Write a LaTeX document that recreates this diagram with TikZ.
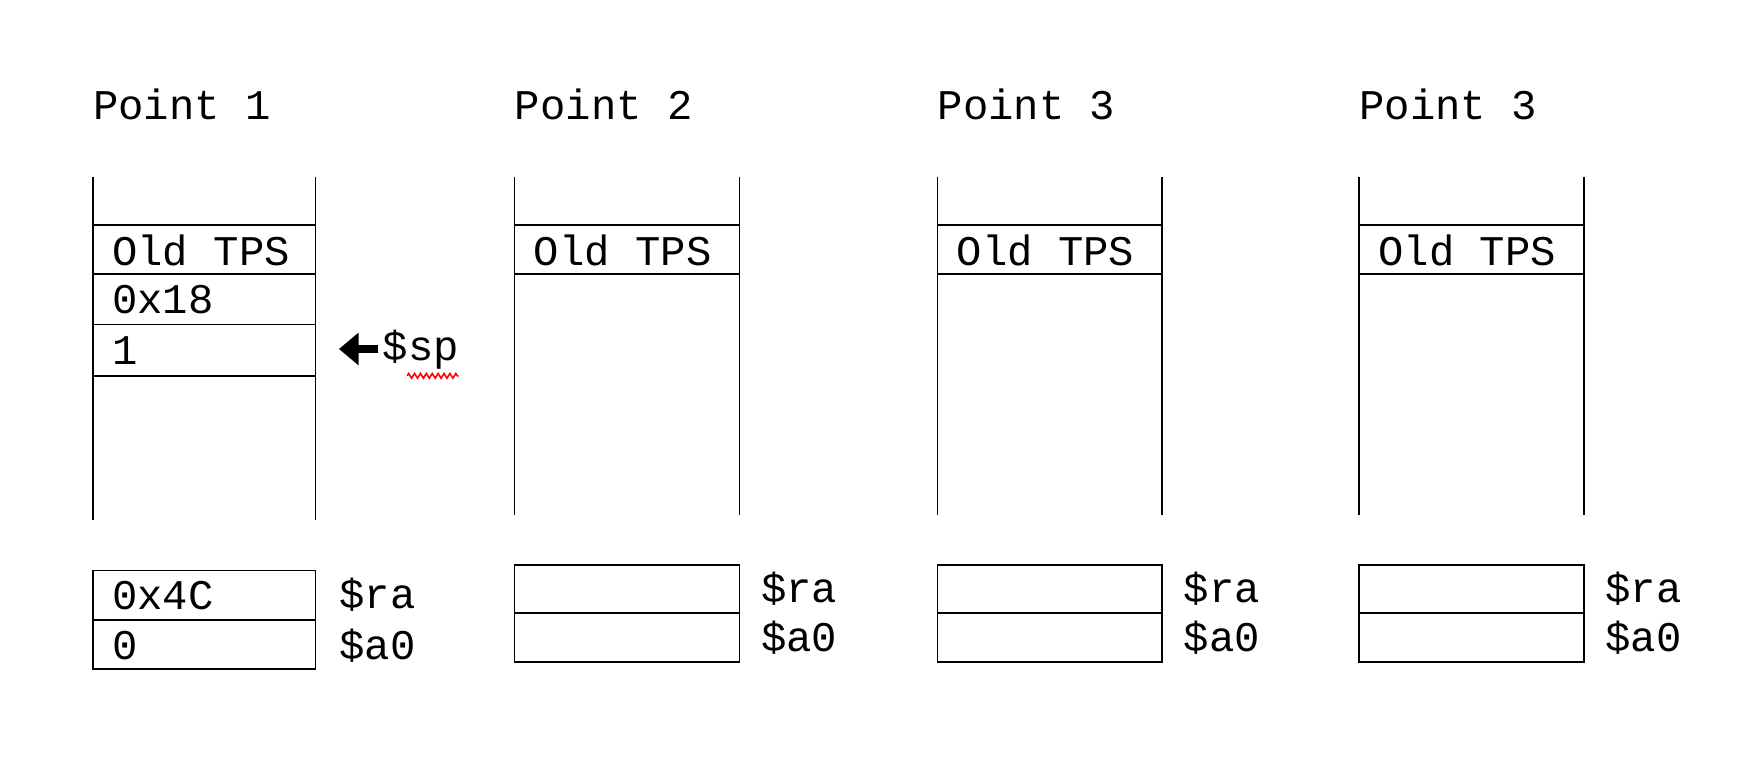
\documentclass[tikz,border=0pt]{standalone}
\usepackage{fontspec}
\setmonofont{Liberation Mono}
\usetikzlibrary{decorations.pathmorphing,arrows.meta}
\begin{document}
\begin{tikzpicture}[x=0.02cm,y=-0.02cm,
  txt/.style={font=\ttfamily\fontsize{21.5}{21.5}\selectfont,inner sep=0pt,anchor=west},
  ln/.style={line width=0.9pt}]
\useasboundingbox (0,0) rectangle (1568,688);
% column 1
\node[txt] (p1) at (83,93) {Point 1};
\draw[ln] (83,158) -- (83,465) (282,158) -- (282,465);
\draw[ln] (83,201) -- (282,201) (83,245) -- (282,245) (83,290) -- (282,290) (83,336) -- (282,336);
\node[txt] (c1a) at (100,224) {Old TPS};
\node[txt] (c1b) at (100,268) {0x18};
\node[txt] (c1c) at (100,313) {1};
\draw[ln] (83,510) rectangle (282,598) (83,554) -- (282,554);
\node[txt] (r1a) at (100,532) {0x4C};
\node[txt] (r1b) at (100,577) {0};
\node[txt] (ra1) at (303,532) {\$ra};
\node[txt] (a01) at (303,577) {\$a0};
\coordinate (arrE) at (338,312);
\coordinate (arrW) at (303,312);
\draw[line width=4pt,-{Triangle[length=10pt,width=16pt]}] (arrE) -- (arrW);
\node[txt] (sp) at (342,313) {\$sp};
\draw[red,line width=0.8pt,decoration={zigzag,segment length=3pt,amplitude=1.2pt},decorate] (364,336) -- (410,336);
% other columns
\foreach \x/\n in {460/2,838/3,1215/3}{
  \node[txt] at (\x,93) {Point \n};
  \draw[ln] (\x,158) -- (\x,460) (\x+201,158) -- (\x+201,460);
  \draw[ln] (\x,201) -- (\x+201,201) (\x,245) -- (\x+201,245);
  \node[txt] at (\x+17,224) {Old TPS};
  \draw[ln] (\x,505) rectangle (\x+201,592) (\x,548) -- (\x+201,548);
  \node[txt] at (\x+220,526) {\$ra};
  \node[txt] at (\x+220,570) {\$a0};
}
\end{tikzpicture}
\end{document}
